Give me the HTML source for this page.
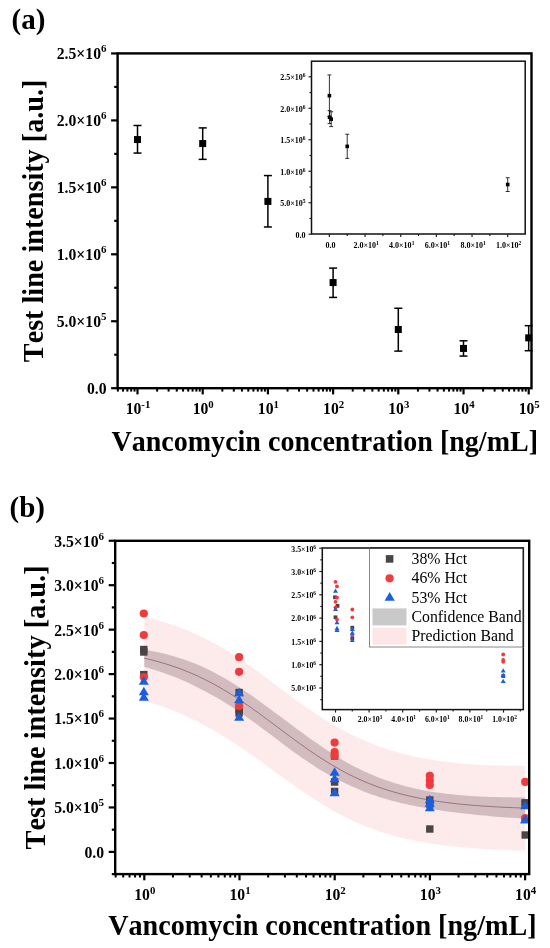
<!DOCTYPE html>
<html><head><meta charset="utf-8"><title>Figure</title>
<style>html,body{margin:0;padding:0;background:#fff;}svg{display:block;}text{font-kerning:none;}</style></head>
<body><svg width="550" height="948" viewBox="0 0 550 948">
<rect width="550" height="948" fill="#fff"/>
<text x="11.5" y="29" font-family="'Liberation Serif','Times New Roman',serif" font-weight="bold" font-size="29">(a)</text>
<line x1="111.1" y1="388.2" x2="117.6" y2="388.2" stroke="#000" stroke-width="2.2"/>
<text x="106.5" y="394.1" text-anchor="end" font-family="'Liberation Serif','Times New Roman',serif" font-weight="bold" font-size="15.7">0.0</text>
<line x1="111.1" y1="321.25" x2="117.6" y2="321.25" stroke="#000" stroke-width="2.2"/>
<text x="106.5" y="327.15" text-anchor="end" font-family="'Liberation Serif','Times New Roman',serif" font-weight="bold" font-size="15.7">5.0×10<tspan font-size="11" dy="-7">5</tspan></text>
<line x1="111.1" y1="254.3" x2="117.6" y2="254.3" stroke="#000" stroke-width="2.2"/>
<text x="106.5" y="260.2" text-anchor="end" font-family="'Liberation Serif','Times New Roman',serif" font-weight="bold" font-size="15.7">1.0×10<tspan font-size="11" dy="-7">6</tspan></text>
<line x1="111.1" y1="187.35" x2="117.6" y2="187.35" stroke="#000" stroke-width="2.2"/>
<text x="106.5" y="193.25" text-anchor="end" font-family="'Liberation Serif','Times New Roman',serif" font-weight="bold" font-size="15.7">1.5×10<tspan font-size="11" dy="-7">6</tspan></text>
<line x1="111.1" y1="120.4" x2="117.6" y2="120.4" stroke="#000" stroke-width="2.2"/>
<text x="106.5" y="126.3" text-anchor="end" font-family="'Liberation Serif','Times New Roman',serif" font-weight="bold" font-size="15.7">2.0×10<tspan font-size="11" dy="-7">6</tspan></text>
<line x1="111.1" y1="53.45" x2="117.6" y2="53.45" stroke="#000" stroke-width="2.2"/>
<text x="106.5" y="59.35" text-anchor="end" font-family="'Liberation Serif','Times New Roman',serif" font-weight="bold" font-size="15.7">2.5×10<tspan font-size="11" dy="-7">6</tspan></text>
<line x1="114.2" y1="354.72" x2="117.6" y2="354.72" stroke="#000" stroke-width="2.2"/>
<line x1="114.2" y1="287.77" x2="117.6" y2="287.77" stroke="#000" stroke-width="2.2"/>
<line x1="114.2" y1="220.82" x2="117.6" y2="220.82" stroke="#000" stroke-width="2.2"/>
<line x1="114.2" y1="153.87" x2="117.6" y2="153.87" stroke="#000" stroke-width="2.2"/>
<line x1="114.2" y1="86.92" x2="117.6" y2="86.92" stroke="#000" stroke-width="2.2"/>
<line x1="137.5" y1="388.2" x2="137.5" y2="394.4" stroke="#000" stroke-width="2.2"/>
<text x="138" y="414" text-anchor="middle" font-family="'Liberation Serif','Times New Roman',serif" font-weight="bold" font-size="15.7">10<tspan font-size="10.8" dy="-6.5">-1</tspan></text>
<line x1="202.7" y1="388.2" x2="202.7" y2="394.4" stroke="#000" stroke-width="2.2"/>
<text x="203.2" y="414" text-anchor="middle" font-family="'Liberation Serif','Times New Roman',serif" font-weight="bold" font-size="15.7">10<tspan font-size="10.8" dy="-6.5">0</tspan></text>
<line x1="267.9" y1="388.2" x2="267.9" y2="394.4" stroke="#000" stroke-width="2.2"/>
<text x="268.4" y="414" text-anchor="middle" font-family="'Liberation Serif','Times New Roman',serif" font-weight="bold" font-size="15.7">10<tspan font-size="10.8" dy="-6.5">1</tspan></text>
<line x1="333.1" y1="388.2" x2="333.1" y2="394.4" stroke="#000" stroke-width="2.2"/>
<text x="333.6" y="414" text-anchor="middle" font-family="'Liberation Serif','Times New Roman',serif" font-weight="bold" font-size="15.7">10<tspan font-size="10.8" dy="-6.5">2</tspan></text>
<line x1="398.3" y1="388.2" x2="398.3" y2="394.4" stroke="#000" stroke-width="2.2"/>
<text x="398.8" y="414" text-anchor="middle" font-family="'Liberation Serif','Times New Roman',serif" font-weight="bold" font-size="15.7">10<tspan font-size="10.8" dy="-6.5">3</tspan></text>
<line x1="463.5" y1="388.2" x2="463.5" y2="394.4" stroke="#000" stroke-width="2.2"/>
<text x="464" y="414" text-anchor="middle" font-family="'Liberation Serif','Times New Roman',serif" font-weight="bold" font-size="15.7">10<tspan font-size="10.8" dy="-6.5">4</tspan></text>
<line x1="528.7" y1="388.2" x2="528.7" y2="394.4" stroke="#000" stroke-width="2.2"/>
<text x="529.2" y="414" text-anchor="middle" font-family="'Liberation Serif','Times New Roman',serif" font-weight="bold" font-size="15.7">10<tspan font-size="10.8" dy="-6.5">5</tspan></text>
<line x1="117.87" y1="388.2" x2="117.87" y2="391.6" stroke="#000" stroke-width="2"/>
<line x1="123.04" y1="388.2" x2="123.04" y2="391.6" stroke="#000" stroke-width="2"/>
<line x1="127.4" y1="388.2" x2="127.4" y2="391.6" stroke="#000" stroke-width="2"/>
<line x1="131.18" y1="388.2" x2="131.18" y2="391.6" stroke="#000" stroke-width="2"/>
<line x1="134.52" y1="388.2" x2="134.52" y2="391.6" stroke="#000" stroke-width="2"/>
<line x1="157.13" y1="388.2" x2="157.13" y2="391.6" stroke="#000" stroke-width="2"/>
<line x1="168.61" y1="388.2" x2="168.61" y2="391.6" stroke="#000" stroke-width="2"/>
<line x1="176.75" y1="388.2" x2="176.75" y2="391.6" stroke="#000" stroke-width="2"/>
<line x1="183.07" y1="388.2" x2="183.07" y2="391.6" stroke="#000" stroke-width="2"/>
<line x1="188.24" y1="388.2" x2="188.24" y2="391.6" stroke="#000" stroke-width="2"/>
<line x1="192.6" y1="388.2" x2="192.6" y2="391.6" stroke="#000" stroke-width="2"/>
<line x1="196.38" y1="388.2" x2="196.38" y2="391.6" stroke="#000" stroke-width="2"/>
<line x1="199.72" y1="388.2" x2="199.72" y2="391.6" stroke="#000" stroke-width="2"/>
<line x1="222.33" y1="388.2" x2="222.33" y2="391.6" stroke="#000" stroke-width="2"/>
<line x1="233.81" y1="388.2" x2="233.81" y2="391.6" stroke="#000" stroke-width="2"/>
<line x1="241.95" y1="388.2" x2="241.95" y2="391.6" stroke="#000" stroke-width="2"/>
<line x1="248.27" y1="388.2" x2="248.27" y2="391.6" stroke="#000" stroke-width="2"/>
<line x1="253.44" y1="388.2" x2="253.44" y2="391.6" stroke="#000" stroke-width="2"/>
<line x1="257.8" y1="388.2" x2="257.8" y2="391.6" stroke="#000" stroke-width="2"/>
<line x1="261.58" y1="388.2" x2="261.58" y2="391.6" stroke="#000" stroke-width="2"/>
<line x1="264.92" y1="388.2" x2="264.92" y2="391.6" stroke="#000" stroke-width="2"/>
<line x1="287.53" y1="388.2" x2="287.53" y2="391.6" stroke="#000" stroke-width="2"/>
<line x1="299.01" y1="388.2" x2="299.01" y2="391.6" stroke="#000" stroke-width="2"/>
<line x1="307.15" y1="388.2" x2="307.15" y2="391.6" stroke="#000" stroke-width="2"/>
<line x1="313.47" y1="388.2" x2="313.47" y2="391.6" stroke="#000" stroke-width="2"/>
<line x1="318.64" y1="388.2" x2="318.64" y2="391.6" stroke="#000" stroke-width="2"/>
<line x1="323" y1="388.2" x2="323" y2="391.6" stroke="#000" stroke-width="2"/>
<line x1="326.78" y1="388.2" x2="326.78" y2="391.6" stroke="#000" stroke-width="2"/>
<line x1="330.12" y1="388.2" x2="330.12" y2="391.6" stroke="#000" stroke-width="2"/>
<line x1="352.73" y1="388.2" x2="352.73" y2="391.6" stroke="#000" stroke-width="2"/>
<line x1="364.21" y1="388.2" x2="364.21" y2="391.6" stroke="#000" stroke-width="2"/>
<line x1="372.35" y1="388.2" x2="372.35" y2="391.6" stroke="#000" stroke-width="2"/>
<line x1="378.67" y1="388.2" x2="378.67" y2="391.6" stroke="#000" stroke-width="2"/>
<line x1="383.84" y1="388.2" x2="383.84" y2="391.6" stroke="#000" stroke-width="2"/>
<line x1="388.2" y1="388.2" x2="388.2" y2="391.6" stroke="#000" stroke-width="2"/>
<line x1="391.98" y1="388.2" x2="391.98" y2="391.6" stroke="#000" stroke-width="2"/>
<line x1="395.32" y1="388.2" x2="395.32" y2="391.6" stroke="#000" stroke-width="2"/>
<line x1="417.93" y1="388.2" x2="417.93" y2="391.6" stroke="#000" stroke-width="2"/>
<line x1="429.41" y1="388.2" x2="429.41" y2="391.6" stroke="#000" stroke-width="2"/>
<line x1="437.55" y1="388.2" x2="437.55" y2="391.6" stroke="#000" stroke-width="2"/>
<line x1="443.87" y1="388.2" x2="443.87" y2="391.6" stroke="#000" stroke-width="2"/>
<line x1="449.04" y1="388.2" x2="449.04" y2="391.6" stroke="#000" stroke-width="2"/>
<line x1="453.4" y1="388.2" x2="453.4" y2="391.6" stroke="#000" stroke-width="2"/>
<line x1="457.18" y1="388.2" x2="457.18" y2="391.6" stroke="#000" stroke-width="2"/>
<line x1="460.52" y1="388.2" x2="460.52" y2="391.6" stroke="#000" stroke-width="2"/>
<line x1="483.13" y1="388.2" x2="483.13" y2="391.6" stroke="#000" stroke-width="2"/>
<line x1="494.61" y1="388.2" x2="494.61" y2="391.6" stroke="#000" stroke-width="2"/>
<line x1="502.75" y1="388.2" x2="502.75" y2="391.6" stroke="#000" stroke-width="2"/>
<line x1="509.07" y1="388.2" x2="509.07" y2="391.6" stroke="#000" stroke-width="2"/>
<line x1="514.24" y1="388.2" x2="514.24" y2="391.6" stroke="#000" stroke-width="2"/>
<line x1="518.6" y1="388.2" x2="518.6" y2="391.6" stroke="#000" stroke-width="2"/>
<line x1="522.38" y1="388.2" x2="522.38" y2="391.6" stroke="#000" stroke-width="2"/>
<line x1="525.72" y1="388.2" x2="525.72" y2="391.6" stroke="#000" stroke-width="2"/>
<rect x="117.6" y="53.4" width="413.9" height="334.8" fill="none" stroke="#000" stroke-width="2.4"/>
<text x="111.5" y="450.8" font-family="'Liberation Serif','Times New Roman',serif" font-weight="bold" font-size="29" textLength="426.5" lengthAdjust="spacingAndGlyphs">Vancomycin concentration [ng/mL]</text>
<text transform="translate(43.2,220.9) rotate(-90)" text-anchor="middle" font-family="'Liberation Serif','Times New Roman',serif" font-weight="bold" font-size="29" textLength="282.5" lengthAdjust="spacingAndGlyphs">Test line intensity [a.u.]</text>
<rect x="311.5" y="61.2" width="213.7" height="172.8" fill="#fff" stroke="#111" stroke-width="1.5"/>
<line x1="308.5" y1="234.2" x2="311.5" y2="234.2" stroke="#222" stroke-width="1.2"/>
<text x="305.5" y="237.6" text-anchor="end" font-family="'Liberation Serif','Times New Roman',serif" font-weight="bold" font-size="8">0.0</text>
<line x1="308.5" y1="202.72" x2="311.5" y2="202.72" stroke="#222" stroke-width="1.2"/>
<text x="305.5" y="206.12" text-anchor="end" font-family="'Liberation Serif','Times New Roman',serif" font-weight="bold" font-size="8">5.0×10<tspan font-size="5.5" dy="-3">5</tspan></text>
<line x1="308.5" y1="171.24" x2="311.5" y2="171.24" stroke="#222" stroke-width="1.2"/>
<text x="305.5" y="174.64" text-anchor="end" font-family="'Liberation Serif','Times New Roman',serif" font-weight="bold" font-size="8">1.0×10<tspan font-size="5.5" dy="-3">6</tspan></text>
<line x1="308.5" y1="139.76" x2="311.5" y2="139.76" stroke="#222" stroke-width="1.2"/>
<text x="305.5" y="143.16" text-anchor="end" font-family="'Liberation Serif','Times New Roman',serif" font-weight="bold" font-size="8">1.5×10<tspan font-size="5.5" dy="-3">6</tspan></text>
<line x1="308.5" y1="108.28" x2="311.5" y2="108.28" stroke="#222" stroke-width="1.2"/>
<text x="305.5" y="111.68" text-anchor="end" font-family="'Liberation Serif','Times New Roman',serif" font-weight="bold" font-size="8">2.0×10<tspan font-size="5.5" dy="-3">6</tspan></text>
<line x1="308.5" y1="76.8" x2="311.5" y2="76.8" stroke="#222" stroke-width="1.2"/>
<text x="305.5" y="80.2" text-anchor="end" font-family="'Liberation Serif','Times New Roman',serif" font-weight="bold" font-size="8">2.5×10<tspan font-size="5.5" dy="-3">6</tspan></text>
<line x1="309.5" y1="218.46" x2="311.5" y2="218.46" stroke="#222" stroke-width="1.2"/>
<line x1="309.5" y1="186.98" x2="311.5" y2="186.98" stroke="#222" stroke-width="1.2"/>
<line x1="309.5" y1="155.5" x2="311.5" y2="155.5" stroke="#222" stroke-width="1.2"/>
<line x1="309.5" y1="124.02" x2="311.5" y2="124.02" stroke="#222" stroke-width="1.2"/>
<line x1="309.5" y1="92.54" x2="311.5" y2="92.54" stroke="#222" stroke-width="1.2"/>
<line x1="329.4" y1="234" x2="329.4" y2="237" stroke="#222" stroke-width="1.2"/>
<text x="330.4" y="247.5" text-anchor="middle" font-family="'Liberation Serif','Times New Roman',serif" font-weight="bold" font-size="8">0.0</text>
<line x1="365.06" y1="234" x2="365.06" y2="237" stroke="#222" stroke-width="1.2"/>
<text x="366.06" y="247.5" text-anchor="middle" font-family="'Liberation Serif','Times New Roman',serif" font-weight="bold" font-size="8">2.0×10<tspan font-size="5.5" dy="-3">1</tspan></text>
<line x1="400.72" y1="234" x2="400.72" y2="237" stroke="#222" stroke-width="1.2"/>
<text x="401.72" y="247.5" text-anchor="middle" font-family="'Liberation Serif','Times New Roman',serif" font-weight="bold" font-size="8">4.0×10<tspan font-size="5.5" dy="-3">1</tspan></text>
<line x1="436.38" y1="234" x2="436.38" y2="237" stroke="#222" stroke-width="1.2"/>
<text x="437.38" y="247.5" text-anchor="middle" font-family="'Liberation Serif','Times New Roman',serif" font-weight="bold" font-size="8">6.0×10<tspan font-size="5.5" dy="-3">1</tspan></text>
<line x1="472.04" y1="234" x2="472.04" y2="237" stroke="#222" stroke-width="1.2"/>
<text x="473.04" y="247.5" text-anchor="middle" font-family="'Liberation Serif','Times New Roman',serif" font-weight="bold" font-size="8">8.0×10<tspan font-size="5.5" dy="-3">1</tspan></text>
<line x1="507.7" y1="234" x2="507.7" y2="237" stroke="#222" stroke-width="1.2"/>
<text x="508.7" y="247.5" text-anchor="middle" font-family="'Liberation Serif','Times New Roman',serif" font-weight="bold" font-size="8">1.0×10<tspan font-size="5.5" dy="-3">2</tspan></text>
<line x1="347.23" y1="234" x2="347.23" y2="236" stroke="#222" stroke-width="1.2"/>
<line x1="382.89" y1="234" x2="382.89" y2="236" stroke="#222" stroke-width="1.2"/>
<line x1="418.55" y1="234" x2="418.55" y2="236" stroke="#222" stroke-width="1.2"/>
<line x1="454.21" y1="234" x2="454.21" y2="236" stroke="#222" stroke-width="1.2"/>
<line x1="489.87" y1="234" x2="489.87" y2="236" stroke="#222" stroke-width="1.2"/>
<line x1="329.4" y1="74.91" x2="329.4" y2="116.46" stroke="#000" stroke-width="0.8"/>
<line x1="327.4" y1="74.91" x2="331.4" y2="74.91" stroke="#000" stroke-width="0.8"/>
<line x1="327.4" y1="116.46" x2="331.4" y2="116.46" stroke="#000" stroke-width="0.8"/>
<rect x="327.6" y="93.89" width="3.6" height="3.6" fill="#000"/>
<line x1="329.58" y1="110.67" x2="329.58" y2="123.64" stroke="#000" stroke-width="0.8"/>
<line x1="327.58" y1="110.67" x2="331.58" y2="110.67" stroke="#000" stroke-width="0.8"/>
<line x1="327.58" y1="123.64" x2="331.58" y2="123.64" stroke="#000" stroke-width="0.8"/>
<rect x="327.78" y="115.48" width="3.6" height="3.6" fill="#000"/>
<line x1="331.18" y1="111.74" x2="331.18" y2="126.6" stroke="#000" stroke-width="0.8"/>
<line x1="329.18" y1="111.74" x2="333.18" y2="111.74" stroke="#000" stroke-width="0.8"/>
<line x1="329.18" y1="126.6" x2="333.18" y2="126.6" stroke="#000" stroke-width="0.8"/>
<rect x="329.38" y="117.37" width="3.6" height="3.6" fill="#000"/>
<line x1="347.23" y1="134.22" x2="347.23" y2="158.4" stroke="#000" stroke-width="0.8"/>
<line x1="345.23" y1="134.22" x2="349.23" y2="134.22" stroke="#000" stroke-width="0.8"/>
<line x1="345.23" y1="158.4" x2="349.23" y2="158.4" stroke="#000" stroke-width="0.8"/>
<rect x="345.43" y="144.57" width="3.6" height="3.6" fill="#000"/>
<line x1="507.7" y1="177.72" x2="507.7" y2="191.51" stroke="#000" stroke-width="0.8"/>
<line x1="505.7" y1="177.72" x2="509.7" y2="177.72" stroke="#000" stroke-width="0.8"/>
<line x1="505.7" y1="191.51" x2="509.7" y2="191.51" stroke="#000" stroke-width="0.8"/>
<rect x="505.9" y="182.72" width="3.6" height="3.6" fill="#000"/>
<line x1="137.5" y1="125.49" x2="137.5" y2="153.07" stroke="#000" stroke-width="1.5"/>
<line x1="133.5" y1="125.49" x2="141.5" y2="125.49" stroke="#000" stroke-width="1.5"/>
<line x1="133.5" y1="153.07" x2="141.5" y2="153.07" stroke="#000" stroke-width="1.5"/>
<rect x="134" y="136.05" width="7" height="7" fill="#000"/>
<line x1="202.7" y1="127.9" x2="202.7" y2="159.36" stroke="#000" stroke-width="1.5"/>
<line x1="198.7" y1="127.9" x2="206.7" y2="127.9" stroke="#000" stroke-width="1.5"/>
<line x1="198.7" y1="159.36" x2="206.7" y2="159.36" stroke="#000" stroke-width="1.5"/>
<rect x="199.2" y="140.06" width="7" height="7" fill="#000"/>
<line x1="267.9" y1="175.57" x2="267.9" y2="226.98" stroke="#000" stroke-width="1.5"/>
<line x1="263.9" y1="175.57" x2="271.9" y2="175.57" stroke="#000" stroke-width="1.5"/>
<line x1="263.9" y1="226.98" x2="271.9" y2="226.98" stroke="#000" stroke-width="1.5"/>
<rect x="264.4" y="197.91" width="7" height="7" fill="#000"/>
<line x1="333.1" y1="268.09" x2="333.1" y2="297.42" stroke="#000" stroke-width="1.5"/>
<line x1="329.1" y1="268.09" x2="337.1" y2="268.09" stroke="#000" stroke-width="1.5"/>
<line x1="329.1" y1="297.42" x2="337.1" y2="297.42" stroke="#000" stroke-width="1.5"/>
<rect x="329.6" y="279.05" width="7" height="7" fill="#000"/>
<line x1="398.3" y1="308.26" x2="398.3" y2="351.11" stroke="#000" stroke-width="1.5"/>
<line x1="394.3" y1="308.26" x2="402.3" y2="308.26" stroke="#000" stroke-width="1.5"/>
<line x1="394.3" y1="351.11" x2="402.3" y2="351.11" stroke="#000" stroke-width="1.5"/>
<rect x="394.8" y="325.98" width="7" height="7" fill="#000"/>
<line x1="463.5" y1="340.8" x2="463.5" y2="356.06" stroke="#000" stroke-width="1.5"/>
<line x1="459.5" y1="340.8" x2="467.5" y2="340.8" stroke="#000" stroke-width="1.5"/>
<line x1="459.5" y1="356.06" x2="467.5" y2="356.06" stroke="#000" stroke-width="1.5"/>
<rect x="460" y="344.93" width="7" height="7" fill="#000"/>
<line x1="528.7" y1="325.67" x2="528.7" y2="350.71" stroke="#000" stroke-width="1.5"/>
<line x1="524.7" y1="325.67" x2="532.7" y2="325.67" stroke="#000" stroke-width="1.5"/>
<line x1="524.7" y1="350.71" x2="532.7" y2="350.71" stroke="#000" stroke-width="1.5"/>
<rect x="525.2" y="334.35" width="7" height="7" fill="#000"/>
<text x="9.5" y="516.5" font-family="'Liberation Serif','Times New Roman',serif" font-weight="bold" font-size="29">(b)</text>
<path d="M144.3,617.05 L147.47,617.78 L150.65,618.55 L153.82,619.36 L156.99,620.2 L160.17,621.09 L163.34,622.01 L166.51,622.98 L169.69,623.99 L172.86,625.05 L176.03,626.15 L179.21,627.3 L182.38,628.49 L185.55,629.74 L188.73,631.03 L191.9,632.38 L195.07,633.77 L198.25,635.22 L201.42,636.72 L204.59,638.28 L207.77,639.88 L210.94,641.54 L214.11,643.25 L217.29,645.02 L220.46,646.83 L223.63,648.7 L226.81,650.61 L229.98,652.57 L233.15,654.58 L236.33,656.64 L239.5,658.74 L242.67,660.88 L245.85,663.06 L249.02,665.28 L252.19,667.53 L255.37,669.81 L258.54,672.11 L261.71,674.44 L264.89,676.79 L268.06,679.15 L271.23,681.53 L274.41,683.92 L277.58,686.3 L280.75,688.69 L283.93,691.08 L287.1,693.46 L290.27,695.82 L293.45,698.18 L296.62,700.51 L299.79,702.8 L302.97,705.06 L306.14,707.29 L309.31,709.49 L312.49,711.66 L315.66,713.79 L318.83,715.87 L322.01,717.92 L325.18,719.92 L328.35,721.87 L331.53,723.78 L334.7,725.64 L337.87,727.44 L341.05,729.2 L344.22,730.9 L347.39,732.55 L350.57,734.15 L353.74,735.69 L356.91,737.22 L360.09,738.69 L363.26,740.11 L366.43,741.48 L369.61,742.8 L372.78,744.06 L375.95,745.28 L379.13,746.45 L382.3,747.58 L385.47,748.65 L388.65,749.69 L391.82,750.68 L394.99,751.62 L398.17,752.53 L401.34,753.39 L404.51,754.22 L407.69,755.01 L410.86,755.77 L414.03,756.49 L417.21,757.17 L420.38,757.83 L423.55,758.45 L426.73,759.05 L429.9,759.61 L433.07,760.1 L436.25,760.56 L439.42,760.99 L442.59,761.41 L445.77,761.79 L448.94,762.16 L452.11,762.51 L455.29,762.83 L458.46,763.14 L461.63,763.43 L464.81,763.71 L467.98,763.96 L471.15,764.21 L474.33,764.43 L477.5,764.65 L480.67,764.8 L483.85,764.94 L487.02,765.07 L490.19,765.19 L493.37,765.3 L496.54,765.4 L499.71,765.48 L502.89,765.56 L506.06,765.63 L509.23,765.7 L512.41,765.75 L515.58,765.8 L518.75,765.84 L521.93,765.87 L525.1,765.9 L525.1,850.7 L521.93,850.61 L518.75,850.52 L515.58,850.42 L512.41,850.31 L509.23,850.2 L506.06,850.07 L502.89,849.94 L499.71,849.8 L496.54,849.66 L493.37,849.5 L490.19,849.33 L487.02,849.15 L483.85,848.96 L480.67,848.76 L477.5,848.55 L474.33,848.32 L471.15,848.08 L467.98,847.82 L464.81,847.55 L461.63,847.27 L458.46,846.96 L455.29,846.64 L452.11,846.3 L448.94,845.94 L445.77,845.56 L442.59,845.16 L439.42,844.73 L436.25,844.29 L433.07,843.81 L429.9,843.31 L426.73,842.81 L423.55,842.28 L420.38,841.72 L417.21,841.14 L414.03,840.51 L410.86,839.86 L407.69,839.17 L404.51,838.44 L401.34,837.68 L398.17,836.88 L394.99,836.04 L391.82,835.16 L388.65,834.24 L385.47,833.27 L382.3,832.26 L379.13,831.2 L375.95,830.09 L372.78,828.94 L369.61,827.76 L366.43,826.54 L363.26,825.27 L360.09,823.94 L356.91,822.56 L353.74,821.13 L350.57,819.65 L347.39,818.11 L344.22,816.52 L341.05,814.88 L337.87,813.19 L334.7,811.44 L331.53,809.65 L328.35,807.8 L325.18,805.91 L322.01,803.97 L318.83,802 L315.66,800 L312.49,797.95 L309.31,795.87 L306.14,793.76 L302.97,791.61 L299.79,789.43 L296.62,787.23 L293.45,785.01 L290.27,782.76 L287.1,780.5 L283.93,778.23 L280.75,775.95 L277.58,773.67 L274.41,771.33 L271.23,768.99 L268.06,766.65 L264.89,764.33 L261.71,762.03 L258.54,759.75 L255.37,757.48 L252.19,755.25 L249.02,753.04 L245.85,750.87 L242.67,748.73 L239.5,746.64 L236.33,744.58 L233.15,742.56 L229.98,740.59 L226.81,738.51 L223.63,736.48 L220.46,734.5 L217.29,732.56 L214.11,730.68 L210.94,728.85 L207.77,727.07 L204.59,725.35 L201.42,723.68 L198.25,722.06 L195.07,720.49 L191.9,718.98 L188.73,717.44 L185.55,715.95 L182.38,714.51 L179.21,713.12 L176.03,711.78 L172.86,710.49 L169.69,709.24 L166.51,708.03 L163.34,706.87 L160.17,705.76 L156.99,704.68 L153.82,703.64 L150.65,702.64 L147.47,701.68 L144.3,700.75Z" fill="#fdeaea"/>
<path d="M144.3,649.75 L147.47,650.28 L150.65,650.84 L153.82,651.44 L156.99,652.08 L160.17,652.76 L163.34,653.47 L166.51,654.28 L169.69,655.14 L172.86,656.04 L176.03,656.98 L179.21,657.97 L182.38,659.01 L185.55,660.08 L188.73,661.2 L191.9,662.38 L195.07,663.6 L198.25,664.88 L201.42,666.2 L204.59,667.69 L207.77,669.23 L210.94,670.83 L214.11,672.47 L217.29,674.17 L220.46,675.92 L223.63,677.72 L226.81,679.57 L229.98,681.47 L233.15,683.41 L236.33,685.4 L239.5,687.44 L242.67,689.53 L245.85,691.67 L249.02,693.84 L252.19,696.05 L255.37,698.28 L258.54,700.55 L261.71,702.83 L264.89,705.13 L268.06,707.45 L271.23,709.79 L274.41,712.13 L277.58,714.47 L280.75,716.82 L283.93,719.16 L287.1,721.49 L290.27,723.9 L293.45,726.3 L296.62,728.68 L299.79,731.03 L302.97,733.36 L306.14,735.66 L309.31,737.93 L312.49,740.16 L315.66,742.35 L318.83,744.6 L322.01,746.81 L325.18,748.97 L328.35,751.08 L331.53,753.15 L334.7,755.17 L337.87,757.14 L341.05,759.05 L344.22,760.92 L347.39,762.73 L350.57,764.49 L353.74,766.19 L356.91,767.81 L360.09,769.37 L363.26,770.88 L366.43,772.34 L369.61,773.75 L372.78,775.11 L375.95,776.41 L379.13,777.68 L382.3,778.89 L385.47,780.02 L388.65,781.11 L391.82,782.15 L394.99,783.15 L398.17,784.11 L401.34,785.03 L404.51,785.91 L407.69,786.76 L410.86,787.57 L414.03,788.34 L417.21,789.08 L420.38,789.79 L423.55,790.37 L426.73,790.92 L429.9,791.43 L433.07,791.93 L436.25,792.39 L439.42,792.83 L442.59,793.25 L445.77,793.65 L448.94,794.02 L452.11,794.37 L455.29,794.71 L458.46,795.02 L461.63,795.32 L464.81,795.6 L467.98,795.86 L471.15,796.05 L474.33,796.22 L477.5,796.38 L480.67,796.53 L483.85,796.66 L487.02,796.78 L490.19,796.89 L493.37,796.99 L496.54,797.08 L499.71,797.16 L502.89,797.23 L506.06,797.29 L509.23,797.34 L512.41,797.39 L515.58,797.42 L518.75,797.46 L521.93,797.48 L525.1,797.5 L525.1,818.7 L521.93,818.5 L518.75,818.3 L515.58,818.09 L512.41,817.87 L509.23,817.65 L506.06,817.42 L502.89,817.18 L499.71,816.93 L496.54,816.68 L493.37,816.41 L490.19,816.13 L487.02,815.85 L483.85,815.55 L480.67,815.24 L477.5,814.91 L474.33,814.58 L471.15,814.23 L467.98,813.86 L464.81,813.55 L461.63,813.21 L458.46,812.86 L455.29,812.49 L452.11,812.11 L448.94,811.7 L445.77,811.27 L442.59,810.83 L439.42,810.35 L436.25,809.86 L433.07,809.34 L429.9,808.79 L426.73,808.22 L423.55,807.62 L420.38,806.99 L417.21,806.43 L414.03,805.84 L410.86,805.22 L407.69,804.56 L404.51,803.86 L401.34,803.13 L398.17,802.36 L394.99,801.55 L391.82,800.7 L388.65,799.81 L385.47,798.87 L382.3,797.89 L379.13,796.9 L375.95,795.86 L372.78,794.77 L369.61,793.64 L366.43,792.45 L363.26,791.21 L360.09,789.93 L356.91,788.59 L353.74,787.19 L350.57,785.79 L347.39,784.33 L344.22,782.82 L341.05,781.25 L337.87,779.64 L334.7,777.97 L331.53,776.25 L328.35,774.48 L325.18,772.67 L322.01,770.81 L318.83,768.9 L315.66,766.95 L312.49,764.87 L309.31,762.75 L306.14,760.59 L302.97,758.4 L299.79,756.19 L296.62,753.94 L293.45,751.68 L290.27,749.39 L287.1,747.09 L283.93,744.69 L280.75,742.28 L277.58,739.87 L274.41,737.46 L271.23,735.05 L268.06,732.65 L264.89,730.27 L261.71,727.9 L258.54,725.55 L255.37,723.22 L252.19,720.92 L249.02,718.64 L245.85,716.4 L242.67,714.2 L239.5,712.04 L236.33,709.89 L233.15,707.78 L229.98,705.72 L226.81,703.7 L223.63,701.74 L220.46,699.82 L217.29,697.95 L214.11,696.14 L210.94,694.38 L207.77,692.67 L204.59,691.01 L201.42,689.4 L198.25,687.74 L195.07,686.13 L191.9,684.58 L188.73,683.07 L185.55,681.62 L182.38,680.21 L179.21,678.87 L176.03,677.58 L172.86,676.34 L169.69,675.14 L166.51,673.98 L163.34,672.87 L160.17,671.76 L156.99,670.68 L153.82,669.64 L150.65,668.64 L147.47,667.68 L144.3,666.75Z" fill="#d2bcbf"/>
<path d="M144.3,658.25 L147.47,658.98 L150.65,659.74 L153.82,660.54 L156.99,661.38 L160.17,662.26 L163.34,663.17 L166.51,664.13 L169.69,665.14 L172.86,666.19 L176.03,667.28 L179.21,668.42 L182.38,669.61 L185.55,670.85 L188.73,672.14 L191.9,673.48 L195.07,674.87 L198.25,676.31 L201.42,677.8 L204.59,679.35 L207.77,680.95 L210.94,682.6 L214.11,684.31 L217.29,686.06 L220.46,687.87 L223.63,689.73 L226.81,691.64 L229.98,693.59 L233.15,695.6 L236.33,697.65 L239.5,699.74 L242.67,701.87 L245.85,704.04 L249.02,706.24 L252.19,708.48 L255.37,710.75 L258.54,713.05 L261.71,715.36 L264.89,717.7 L268.06,720.05 L271.23,722.42 L274.41,724.79 L277.58,727.17 L280.75,729.55 L283.93,731.92 L287.1,734.29 L290.27,736.65 L293.45,738.99 L296.62,741.31 L299.79,743.61 L302.97,745.88 L306.14,748.13 L309.31,750.34 L312.49,752.51 L315.66,754.65 L318.83,756.75 L322.01,758.81 L325.18,760.82 L328.35,762.78 L331.53,764.7 L334.7,766.57 L337.87,768.39 L341.05,770.15 L344.22,771.87 L347.39,773.53 L350.57,775.14 L353.74,776.69 L356.91,778.2 L360.09,779.65 L363.26,781.05 L366.43,782.39 L369.61,783.69 L372.78,784.94 L375.95,786.14 L379.13,787.29 L382.3,788.39 L385.47,789.45 L388.65,790.46 L391.82,791.43 L394.99,792.35 L398.17,793.24 L401.34,794.08 L404.51,794.89 L407.69,795.66 L410.86,796.39 L414.03,797.09 L417.21,797.76 L420.38,798.39 L423.55,798.99 L426.73,799.57 L429.9,800.11 L433.07,800.63 L436.25,801.13 L439.42,801.59 L442.59,802.04 L445.77,802.46 L448.94,802.86 L452.11,803.24 L455.29,803.6 L458.46,803.94 L461.63,804.27 L464.81,804.57 L467.98,804.86 L471.15,805.14 L474.33,805.4 L477.5,805.65 L480.67,805.88 L483.85,806.1 L487.02,806.31 L490.19,806.51 L493.37,806.7 L496.54,806.88 L499.71,807.04 L502.89,807.2 L506.06,807.35 L509.23,807.5 L512.41,807.63 L515.58,807.76 L518.75,807.88 L521.93,807.99 L525.1,808.1" fill="none" stroke="#86626a" stroke-width="0.8"/>
<line x1="108.7" y1="851.9" x2="115.2" y2="851.9" stroke="#000" stroke-width="2.2"/>
<text x="104" y="857.8" text-anchor="end" font-family="'Liberation Serif','Times New Roman',serif" font-weight="bold" font-size="15.7">0.0</text>
<line x1="108.7" y1="807.45" x2="115.2" y2="807.45" stroke="#000" stroke-width="2.2"/>
<text x="104" y="813.35" text-anchor="end" font-family="'Liberation Serif','Times New Roman',serif" font-weight="bold" font-size="15.7">5.0×10<tspan font-size="11" dy="-7">5</tspan></text>
<line x1="108.7" y1="763" x2="115.2" y2="763" stroke="#000" stroke-width="2.2"/>
<text x="104" y="768.9" text-anchor="end" font-family="'Liberation Serif','Times New Roman',serif" font-weight="bold" font-size="15.7">1.0×10<tspan font-size="11" dy="-7">6</tspan></text>
<line x1="108.7" y1="718.55" x2="115.2" y2="718.55" stroke="#000" stroke-width="2.2"/>
<text x="104" y="724.45" text-anchor="end" font-family="'Liberation Serif','Times New Roman',serif" font-weight="bold" font-size="15.7">1.5×10<tspan font-size="11" dy="-7">6</tspan></text>
<line x1="108.7" y1="674.1" x2="115.2" y2="674.1" stroke="#000" stroke-width="2.2"/>
<text x="104" y="680" text-anchor="end" font-family="'Liberation Serif','Times New Roman',serif" font-weight="bold" font-size="15.7">2.0×10<tspan font-size="11" dy="-7">6</tspan></text>
<line x1="108.7" y1="629.65" x2="115.2" y2="629.65" stroke="#000" stroke-width="2.2"/>
<text x="104" y="635.55" text-anchor="end" font-family="'Liberation Serif','Times New Roman',serif" font-weight="bold" font-size="15.7">2.5×10<tspan font-size="11" dy="-7">6</tspan></text>
<line x1="108.7" y1="585.2" x2="115.2" y2="585.2" stroke="#000" stroke-width="2.2"/>
<text x="104" y="591.1" text-anchor="end" font-family="'Liberation Serif','Times New Roman',serif" font-weight="bold" font-size="15.7">3.0×10<tspan font-size="11" dy="-7">6</tspan></text>
<line x1="108.7" y1="540.75" x2="115.2" y2="540.75" stroke="#000" stroke-width="2.2"/>
<text x="104" y="546.65" text-anchor="end" font-family="'Liberation Serif','Times New Roman',serif" font-weight="bold" font-size="15.7">3.5×10<tspan font-size="11" dy="-7">6</tspan></text>
<line x1="111.8" y1="874.12" x2="115.2" y2="874.12" stroke="#000" stroke-width="2.2"/>
<line x1="111.8" y1="829.67" x2="115.2" y2="829.67" stroke="#000" stroke-width="2.2"/>
<line x1="111.8" y1="785.22" x2="115.2" y2="785.22" stroke="#000" stroke-width="2.2"/>
<line x1="111.8" y1="740.77" x2="115.2" y2="740.77" stroke="#000" stroke-width="2.2"/>
<line x1="111.8" y1="696.32" x2="115.2" y2="696.32" stroke="#000" stroke-width="2.2"/>
<line x1="111.8" y1="651.88" x2="115.2" y2="651.88" stroke="#000" stroke-width="2.2"/>
<line x1="111.8" y1="607.42" x2="115.2" y2="607.42" stroke="#000" stroke-width="2.2"/>
<line x1="111.8" y1="562.97" x2="115.2" y2="562.97" stroke="#000" stroke-width="2.2"/>
<line x1="144.3" y1="874.1" x2="144.3" y2="880.3" stroke="#000" stroke-width="2.2"/>
<text x="144.8" y="900.2" text-anchor="middle" font-family="'Liberation Serif','Times New Roman',serif" font-weight="bold" font-size="15.7">10<tspan font-size="10.8" dy="-6.5">0</tspan></text>
<line x1="239.5" y1="874.1" x2="239.5" y2="880.3" stroke="#000" stroke-width="2.2"/>
<text x="240" y="900.2" text-anchor="middle" font-family="'Liberation Serif','Times New Roman',serif" font-weight="bold" font-size="15.7">10<tspan font-size="10.8" dy="-6.5">1</tspan></text>
<line x1="334.7" y1="874.1" x2="334.7" y2="880.3" stroke="#000" stroke-width="2.2"/>
<text x="335.2" y="900.2" text-anchor="middle" font-family="'Liberation Serif','Times New Roman',serif" font-weight="bold" font-size="15.7">10<tspan font-size="10.8" dy="-6.5">2</tspan></text>
<line x1="429.9" y1="874.1" x2="429.9" y2="880.3" stroke="#000" stroke-width="2.2"/>
<text x="430.4" y="900.2" text-anchor="middle" font-family="'Liberation Serif','Times New Roman',serif" font-weight="bold" font-size="15.7">10<tspan font-size="10.8" dy="-6.5">3</tspan></text>
<line x1="525.1" y1="874.1" x2="525.1" y2="880.3" stroke="#000" stroke-width="2.2"/>
<text x="525.6" y="900.2" text-anchor="middle" font-family="'Liberation Serif','Times New Roman',serif" font-weight="bold" font-size="15.7">10<tspan font-size="10.8" dy="-6.5">4</tspan></text>
<line x1="115.64" y1="874.1" x2="115.64" y2="877.5" stroke="#000" stroke-width="2"/>
<line x1="123.18" y1="874.1" x2="123.18" y2="877.5" stroke="#000" stroke-width="2"/>
<line x1="129.55" y1="874.1" x2="129.55" y2="877.5" stroke="#000" stroke-width="2"/>
<line x1="135.07" y1="874.1" x2="135.07" y2="877.5" stroke="#000" stroke-width="2"/>
<line x1="139.94" y1="874.1" x2="139.94" y2="877.5" stroke="#000" stroke-width="2"/>
<line x1="172.96" y1="874.1" x2="172.96" y2="877.5" stroke="#000" stroke-width="2"/>
<line x1="189.72" y1="874.1" x2="189.72" y2="877.5" stroke="#000" stroke-width="2"/>
<line x1="201.62" y1="874.1" x2="201.62" y2="877.5" stroke="#000" stroke-width="2"/>
<line x1="210.84" y1="874.1" x2="210.84" y2="877.5" stroke="#000" stroke-width="2"/>
<line x1="218.38" y1="874.1" x2="218.38" y2="877.5" stroke="#000" stroke-width="2"/>
<line x1="224.75" y1="874.1" x2="224.75" y2="877.5" stroke="#000" stroke-width="2"/>
<line x1="230.27" y1="874.1" x2="230.27" y2="877.5" stroke="#000" stroke-width="2"/>
<line x1="235.14" y1="874.1" x2="235.14" y2="877.5" stroke="#000" stroke-width="2"/>
<line x1="268.16" y1="874.1" x2="268.16" y2="877.5" stroke="#000" stroke-width="2"/>
<line x1="284.92" y1="874.1" x2="284.92" y2="877.5" stroke="#000" stroke-width="2"/>
<line x1="296.82" y1="874.1" x2="296.82" y2="877.5" stroke="#000" stroke-width="2"/>
<line x1="306.04" y1="874.1" x2="306.04" y2="877.5" stroke="#000" stroke-width="2"/>
<line x1="313.58" y1="874.1" x2="313.58" y2="877.5" stroke="#000" stroke-width="2"/>
<line x1="319.95" y1="874.1" x2="319.95" y2="877.5" stroke="#000" stroke-width="2"/>
<line x1="325.47" y1="874.1" x2="325.47" y2="877.5" stroke="#000" stroke-width="2"/>
<line x1="330.34" y1="874.1" x2="330.34" y2="877.5" stroke="#000" stroke-width="2"/>
<line x1="363.36" y1="874.1" x2="363.36" y2="877.5" stroke="#000" stroke-width="2"/>
<line x1="380.12" y1="874.1" x2="380.12" y2="877.5" stroke="#000" stroke-width="2"/>
<line x1="392.02" y1="874.1" x2="392.02" y2="877.5" stroke="#000" stroke-width="2"/>
<line x1="401.24" y1="874.1" x2="401.24" y2="877.5" stroke="#000" stroke-width="2"/>
<line x1="408.78" y1="874.1" x2="408.78" y2="877.5" stroke="#000" stroke-width="2"/>
<line x1="415.15" y1="874.1" x2="415.15" y2="877.5" stroke="#000" stroke-width="2"/>
<line x1="420.67" y1="874.1" x2="420.67" y2="877.5" stroke="#000" stroke-width="2"/>
<line x1="425.54" y1="874.1" x2="425.54" y2="877.5" stroke="#000" stroke-width="2"/>
<line x1="458.56" y1="874.1" x2="458.56" y2="877.5" stroke="#000" stroke-width="2"/>
<line x1="475.32" y1="874.1" x2="475.32" y2="877.5" stroke="#000" stroke-width="2"/>
<line x1="487.22" y1="874.1" x2="487.22" y2="877.5" stroke="#000" stroke-width="2"/>
<line x1="496.44" y1="874.1" x2="496.44" y2="877.5" stroke="#000" stroke-width="2"/>
<line x1="503.98" y1="874.1" x2="503.98" y2="877.5" stroke="#000" stroke-width="2"/>
<line x1="510.35" y1="874.1" x2="510.35" y2="877.5" stroke="#000" stroke-width="2"/>
<line x1="515.87" y1="874.1" x2="515.87" y2="877.5" stroke="#000" stroke-width="2"/>
<line x1="520.74" y1="874.1" x2="520.74" y2="877.5" stroke="#000" stroke-width="2"/>
<rect x="140.1" y="645.8" width="7.4" height="7.4" fill="#4b4345"/>
<rect x="140.1" y="648.3" width="7.4" height="7.4" fill="#4b4345"/>
<rect x="140.1" y="670.9" width="7.4" height="7.4" fill="#4b4345"/>
<rect x="235.4" y="688.8" width="7.4" height="7.4" fill="#4b4345"/>
<rect x="235.4" y="706.3" width="7.4" height="7.4" fill="#4b4345"/>
<rect x="235.4" y="709.3" width="7.4" height="7.4" fill="#4b4345"/>
<rect x="330.9" y="752.3" width="7.4" height="7.4" fill="#4b4345"/>
<rect x="330.9" y="778.3" width="7.4" height="7.4" fill="#4b4345"/>
<rect x="330.9" y="787.8" width="7.4" height="7.4" fill="#4b4345"/>
<rect x="426.1" y="796.3" width="7.4" height="7.4" fill="#4b4345"/>
<rect x="426.1" y="800.3" width="7.4" height="7.4" fill="#4b4345"/>
<rect x="426.1" y="825.3" width="7.4" height="7.4" fill="#4b4345"/>
<rect x="521.5" y="799.3" width="7.4" height="7.4" fill="#4b4345"/>
<rect x="521.5" y="831.3" width="7.4" height="7.4" fill="#4b4345"/>
<rect x="521.5" y="799.3" width="7.4" height="7.4" fill="#4b4345"/>
<circle cx="143.8" cy="613.5" r="4.1" fill="#f03a3c"/>
<circle cx="143.8" cy="635" r="4.1" fill="#f03a3c"/>
<circle cx="143.8" cy="677" r="4.1" fill="#f03a3c"/>
<circle cx="239.1" cy="657.2" r="4.1" fill="#f03a3c"/>
<circle cx="239.1" cy="671.8" r="4.1" fill="#f03a3c"/>
<circle cx="239.1" cy="706.1" r="4.1" fill="#f03a3c"/>
<circle cx="334.6" cy="742.6" r="4.1" fill="#f03a3c"/>
<circle cx="334.6" cy="752" r="4.1" fill="#f03a3c"/>
<circle cx="334.6" cy="756" r="4.1" fill="#f03a3c"/>
<circle cx="429.8" cy="775.8" r="4.1" fill="#f03a3c"/>
<circle cx="429.8" cy="780.5" r="4.1" fill="#f03a3c"/>
<circle cx="429.8" cy="785" r="4.1" fill="#f03a3c"/>
<circle cx="525.2" cy="781.9" r="4.1" fill="#f03a3c"/>
<circle cx="525.2" cy="818.3" r="4.1" fill="#f03a3c"/>
<circle cx="525.2" cy="818.3" r="4.1" fill="#f03a3c"/>
<path d="M143.8,676.27 L148.8,684.87 L138.8,684.87Z" fill="#1c5fdc"/>
<path d="M143.8,686.77 L148.8,695.37 L138.8,695.37Z" fill="#1c5fdc"/>
<path d="M143.8,692.07 L148.8,700.67 L138.8,700.67Z" fill="#1c5fdc"/>
<path d="M239.1,687.77 L244.1,696.37 L234.1,696.37Z" fill="#1c5fdc"/>
<path d="M239.1,694.77 L244.1,703.37 L234.1,703.37Z" fill="#1c5fdc"/>
<path d="M239.1,712.27 L244.1,720.87 L234.1,720.87Z" fill="#1c5fdc"/>
<path d="M334.6,767.27 L339.6,775.87 L329.6,775.87Z" fill="#1c5fdc"/>
<path d="M334.6,773.77 L339.6,782.37 L329.6,782.37Z" fill="#1c5fdc"/>
<path d="M334.6,787.57 L339.6,796.17 L329.6,796.17Z" fill="#1c5fdc"/>
<path d="M429.8,794.77 L434.8,803.37 L424.8,803.37Z" fill="#1c5fdc"/>
<path d="M429.8,798.27 L434.8,806.87 L424.8,806.87Z" fill="#1c5fdc"/>
<path d="M429.8,802.77 L434.8,811.37 L424.8,811.37Z" fill="#1c5fdc"/>
<path d="M525.2,800.77 L530.2,809.37 L520.2,809.37Z" fill="#1c5fdc"/>
<path d="M525.2,814.77 L530.2,823.37 L520.2,823.37Z" fill="#1c5fdc"/>
<path d="M525.2,814.77 L530.2,823.37 L520.2,823.37Z" fill="#1c5fdc"/>
<rect x="115.2" y="540.8" width="414" height="333.3" fill="none" stroke="#000" stroke-width="2.4"/>
<rect x="322.3" y="548" width="201" height="161.6" fill="#fff" stroke="#111" stroke-width="1.5"/>
<line x1="319.3" y1="688" x2="322.3" y2="688" stroke="#222" stroke-width="1.2"/>
<text x="316" y="691.3" text-anchor="end" font-family="'Liberation Serif','Times New Roman',serif" font-weight="bold" font-size="7.8">5.0×10<tspan font-size="5.4" dy="-2.8">5</tspan></text>
<line x1="319.3" y1="664.7" x2="322.3" y2="664.7" stroke="#222" stroke-width="1.2"/>
<text x="316" y="668" text-anchor="end" font-family="'Liberation Serif','Times New Roman',serif" font-weight="bold" font-size="7.8">1.0×10<tspan font-size="5.4" dy="-2.8">6</tspan></text>
<line x1="319.3" y1="641.4" x2="322.3" y2="641.4" stroke="#222" stroke-width="1.2"/>
<text x="316" y="644.7" text-anchor="end" font-family="'Liberation Serif','Times New Roman',serif" font-weight="bold" font-size="7.8">1.5×10<tspan font-size="5.4" dy="-2.8">6</tspan></text>
<line x1="319.3" y1="618.1" x2="322.3" y2="618.1" stroke="#222" stroke-width="1.2"/>
<text x="316" y="621.4" text-anchor="end" font-family="'Liberation Serif','Times New Roman',serif" font-weight="bold" font-size="7.8">2.0×10<tspan font-size="5.4" dy="-2.8">6</tspan></text>
<line x1="319.3" y1="594.8" x2="322.3" y2="594.8" stroke="#222" stroke-width="1.2"/>
<text x="316" y="598.1" text-anchor="end" font-family="'Liberation Serif','Times New Roman',serif" font-weight="bold" font-size="7.8">2.5×10<tspan font-size="5.4" dy="-2.8">6</tspan></text>
<line x1="319.3" y1="571.5" x2="322.3" y2="571.5" stroke="#222" stroke-width="1.2"/>
<text x="316" y="574.8" text-anchor="end" font-family="'Liberation Serif','Times New Roman',serif" font-weight="bold" font-size="7.8">3.0×10<tspan font-size="5.4" dy="-2.8">6</tspan></text>
<line x1="319.3" y1="548.2" x2="322.3" y2="548.2" stroke="#222" stroke-width="1.2"/>
<text x="316" y="551.5" text-anchor="end" font-family="'Liberation Serif','Times New Roman',serif" font-weight="bold" font-size="7.8">3.5×10<tspan font-size="5.4" dy="-2.8">6</tspan></text>
<line x1="320.3" y1="699.65" x2="322.3" y2="699.65" stroke="#222" stroke-width="1.2"/>
<line x1="320.3" y1="676.35" x2="322.3" y2="676.35" stroke="#222" stroke-width="1.2"/>
<line x1="320.3" y1="653.05" x2="322.3" y2="653.05" stroke="#222" stroke-width="1.2"/>
<line x1="320.3" y1="629.75" x2="322.3" y2="629.75" stroke="#222" stroke-width="1.2"/>
<line x1="320.3" y1="606.45" x2="322.3" y2="606.45" stroke="#222" stroke-width="1.2"/>
<line x1="320.3" y1="583.15" x2="322.3" y2="583.15" stroke="#222" stroke-width="1.2"/>
<line x1="320.3" y1="559.85" x2="322.3" y2="559.85" stroke="#222" stroke-width="1.2"/>
<line x1="335.5" y1="709.6" x2="335.5" y2="712.6" stroke="#222" stroke-width="1.2"/>
<text x="336.5" y="722" text-anchor="middle" font-family="'Liberation Serif','Times New Roman',serif" font-weight="bold" font-size="7.8">0.0</text>
<line x1="369.1" y1="709.6" x2="369.1" y2="712.6" stroke="#222" stroke-width="1.2"/>
<text x="370.1" y="722" text-anchor="middle" font-family="'Liberation Serif','Times New Roman',serif" font-weight="bold" font-size="7.8">2.0×10<tspan font-size="5.4" dy="-2.8">1</tspan></text>
<line x1="402.7" y1="709.6" x2="402.7" y2="712.6" stroke="#222" stroke-width="1.2"/>
<text x="403.7" y="722" text-anchor="middle" font-family="'Liberation Serif','Times New Roman',serif" font-weight="bold" font-size="7.8">4.0×10<tspan font-size="5.4" dy="-2.8">1</tspan></text>
<line x1="436.3" y1="709.6" x2="436.3" y2="712.6" stroke="#222" stroke-width="1.2"/>
<text x="437.3" y="722" text-anchor="middle" font-family="'Liberation Serif','Times New Roman',serif" font-weight="bold" font-size="7.8">6.0×10<tspan font-size="5.4" dy="-2.8">1</tspan></text>
<line x1="469.9" y1="709.6" x2="469.9" y2="712.6" stroke="#222" stroke-width="1.2"/>
<text x="470.9" y="722" text-anchor="middle" font-family="'Liberation Serif','Times New Roman',serif" font-weight="bold" font-size="7.8">8.0×10<tspan font-size="5.4" dy="-2.8">1</tspan></text>
<line x1="503.5" y1="709.6" x2="503.5" y2="712.6" stroke="#222" stroke-width="1.2"/>
<text x="504.5" y="722" text-anchor="middle" font-family="'Liberation Serif','Times New Roman',serif" font-weight="bold" font-size="7.8">1.0×10<tspan font-size="5.4" dy="-2.8">2</tspan></text>
<line x1="352.3" y1="709.6" x2="352.3" y2="711.6" stroke="#222" stroke-width="1.2"/>
<line x1="385.9" y1="709.6" x2="385.9" y2="711.6" stroke="#222" stroke-width="1.2"/>
<line x1="419.5" y1="709.6" x2="419.5" y2="711.6" stroke="#222" stroke-width="1.2"/>
<line x1="453.1" y1="709.6" x2="453.1" y2="711.6" stroke="#222" stroke-width="1.2"/>
<line x1="486.7" y1="709.6" x2="486.7" y2="711.6" stroke="#222" stroke-width="1.2"/>
<line x1="520.3" y1="709.6" x2="520.3" y2="711.6" stroke="#222" stroke-width="1.2"/>
<rect x="333.1" y="595.4" width="3.8" height="3.8" fill="#4b4345"/>
<rect x="335.6" y="604" width="3.8" height="3.8" fill="#4b4345"/>
<rect x="333.6" y="615.4" width="3.8" height="3.8" fill="#4b4345"/>
<rect x="350.4" y="625.8" width="3.8" height="3.8" fill="#4b4345"/>
<rect x="350.4" y="636.3" width="3.8" height="3.8" fill="#4b4345"/>
<rect x="501.3" y="674.1" width="3.8" height="3.8" fill="#4b4345"/>
<circle cx="335.5" cy="581.8" r="1.9" fill="#f03a3c"/>
<circle cx="337" cy="586.4" r="1.9" fill="#f03a3c"/>
<circle cx="337" cy="597.7" r="1.9" fill="#f03a3c"/>
<circle cx="335.5" cy="601.8" r="1.9" fill="#f03a3c"/>
<circle cx="335.5" cy="607.3" r="1.9" fill="#f03a3c"/>
<circle cx="337" cy="619.5" r="1.9" fill="#f03a3c"/>
<circle cx="352.3" cy="609.5" r="1.9" fill="#f03a3c"/>
<circle cx="352.3" cy="617.3" r="1.9" fill="#f03a3c"/>
<circle cx="352.3" cy="635" r="1.9" fill="#f03a3c"/>
<circle cx="503.2" cy="654.5" r="1.9" fill="#f03a3c"/>
<circle cx="503.2" cy="660" r="1.9" fill="#f03a3c"/>
<circle cx="503.2" cy="661.8" r="1.9" fill="#f03a3c"/>
<path d="M335.5,588.53 L338,592.83 L333,592.83Z" fill="#1c5fdc"/>
<path d="M335.5,606.74 L338,611.03 L333,611.03Z" fill="#1c5fdc"/>
<path d="M337,619.93 L339.5,624.23 L334.5,624.23Z" fill="#1c5fdc"/>
<path d="M337,625.84 L339.5,630.13 L334.5,630.13Z" fill="#1c5fdc"/>
<path d="M337,627.63 L339.5,631.93 L334.5,631.93Z" fill="#1c5fdc"/>
<path d="M352.3,626.63 L354.8,630.93 L349.8,630.93Z" fill="#1c5fdc"/>
<path d="M352.3,630.34 L354.8,634.63 L349.8,634.63Z" fill="#1c5fdc"/>
<path d="M352.3,637.63 L354.8,641.93 L349.8,641.93Z" fill="#1c5fdc"/>
<path d="M503.2,668.13 L505.7,672.43 L500.7,672.43Z" fill="#1c5fdc"/>
<path d="M503.2,672.63 L505.7,676.93 L500.7,676.93Z" fill="#1c5fdc"/>
<path d="M503.2,678.63 L505.7,682.93 L500.7,682.93Z" fill="#1c5fdc"/>
<rect x="369.5" y="548" width="153.8" height="99" fill="#fff" stroke="#888" stroke-width="1"/>
<path d="M369.5,548 H523.3 V647" fill="none" stroke="#222" stroke-width="1.5"/>
<rect x="385.8" y="555.1" width="7.6" height="7.6" fill="#464646"/>
<circle cx="389.6" cy="578.3" r="4.1" fill="#f03a3c"/>
<path d="M389.7,592.12 L394.8,600.81 L384.6,600.81Z" fill="#1c5fdc"/>
<rect x="372.5" y="608.4" width="34" height="17" fill="#c9c9c9"/>
<rect x="372.5" y="627.6" width="34" height="17" fill="#fde6e6"/>
<text x="411.5" y="564.2" font-family="'Liberation Serif','Times New Roman',serif" font-size="15.8">38% Hct</text>
<text x="411.5" y="583.4" font-family="'Liberation Serif','Times New Roman',serif" font-size="15.8">46% Hct</text>
<text x="411.5" y="602.6" font-family="'Liberation Serif','Times New Roman',serif" font-size="15.8">53% Hct</text>
<text x="411.5" y="621.8" font-family="'Liberation Serif','Times New Roman',serif" font-size="15.8">Confidence Band</text>
<text x="411.5" y="641" font-family="'Liberation Serif','Times New Roman',serif" font-size="15.8">Prediction Band</text>
<text x="108.2" y="934.8" font-family="'Liberation Serif','Times New Roman',serif" font-weight="bold" font-size="29" textLength="428.4" lengthAdjust="spacingAndGlyphs">Vancomycin concentration [ng/mL]</text>
<text transform="translate(45.2,707.4) rotate(-90)" text-anchor="middle" font-family="'Liberation Serif','Times New Roman',serif" font-weight="bold" font-size="29" textLength="284" lengthAdjust="spacingAndGlyphs">Test line intensity [a.u.]</text>
</svg></body></html>
